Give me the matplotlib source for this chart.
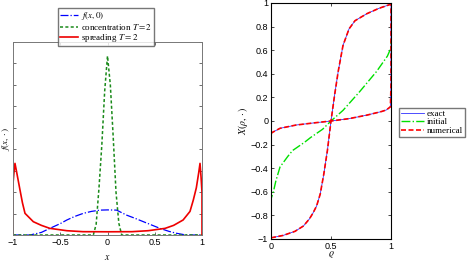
import numpy as np
import matplotlib
matplotlib.use('Agg')
import matplotlib.pyplot as plt

############################## Data ############################################
# left panel: densities f(x, .)
x_init = [-1, -0.82, -0.7, -0.61, -0.5, -0.43, -0.35, -0.256, -0.17, -0.08, 0,
          0.097, 0.2, 0.29, 0.38, 0.47, 0.555, 0.65, 0.73, 0.83, 1]
f_init = [0, 0, 0.12, 0.31, 0.53, 0.70, 0.86, 1.01, 1.10, 1.16, 1.17,
          1.16, 0.93, 0.78, 0.62, 0.46, 0.31, 0.17, 0.08, 0, 0]

x_conc = [-1, -0.15, -0.12, -0.09, -0.06, -0.03, 0, 0.03, 0.06, 0.09, 0.12,
          0.15, 1]
f_conc = [0, 0, 0.5, 2.2, 4.2, 6.7, 8.35, 7.0, 4.6, 2.0, 0.55, 0, 0]

x_spread = [-1, -1, -0.99, -0.979, -0.96, -0.926, -0.9, -0.873, -0.785, -0.7,
            -0.61, -0.43, -0.26, 0, 0.26, 0.43, 0.61, 0.7, 0.8, 0.873, 0.908,
            0.94, 0.965, 0.979, 0.99, 1, 1]
f_spread = [0, 2.4, 2.9, 3.34, 2.9, 2.1, 1.5, 1.01, 0.62, 0.45,
            0.31, 0.2, 0.155, 0.15, 0.155, 0.2, 0.31, 0.45, 0.70, 1.1, 1.63,
            2.2, 2.9, 3.34, 2.7, 2.0, 0]

# right panel: pseudo-inverse X(rho, .)
rho_spread = [0, 0.1, 0.2, 0.27, 0.32, 0.35, 0.38, 0.41, 0.44, 0.47, 0.5,
              0.53, 0.56, 0.6, 0.65, 0.7, 0.8, 0.9, 1]
X_spread = [-0.99, -0.97, -0.935, -0.89, -0.83, -0.78, -0.72, -0.62, -0.45,
            -0.25, 0, 0.22, 0.42, 0.64, 0.78, 0.85, 0.91, 0.955, 0.99]

rho_conc = [0, 0, 0.005, 0.075, 0.21, 0.35, 0.5, 0.65, 0.8, 0.92, 0.96,
            0.995, 1, 1]
X_conc = [-1, -0.12, -0.1, -0.062, -0.034, -0.017, 0, 0.02, 0.05, 0.08,
          0.093, 0.12, 0.3, 1]

rho_init = [0, 0, 0.02, 0.04, 0.075, 0.14, 0.18, 0.28, 0.33, 0.43, 0.5, 0.6,
            0.74, 0.88, 0.97, 1, 1]
X_init = [-0.7, -0.66, -0.6, -0.51, -0.39, -0.3, -0.25, -0.18, -0.14, -0.07,
          0, 0.09, 0.25, 0.42, 0.55, 0.62, 0.68]

############################## Style ###########################################
plt.rcParams['font.family'] = ['Liberation Sans', 'DejaVu Sans']
plt.rcParams['mathtext.fontset'] = 'stix'
plt.rcParams['font.size'] = 6.5

fig = plt.figure(figsize=(4.74, 2.62), dpi=100)
W, H = 474.0, 262.0

############################## Left panel ######################################
ax1 = fig.add_axes([13/W, 1 - 235/H, 189/W, 193/H])
l1, = ax1.plot(x_init, f_init, color='#0000ff', linestyle='-.', lw=0.9)
l2, = ax1.plot(x_conc, f_conc, color='#1a8a1a', linestyle=(0, (2, 1.5)), lw=1.1)
l3, = ax1.plot(x_spread, f_spread, color='#ee0000', lw=1.2)
ax1.set_xlim(-1, 1)
ax1.set_ylim(0, 9)
ax1.set_xticks([-1, -0.5, 0, 0.5, 1])
ax1.set_xticklabels(['\u22121', '\u22120.5', '0', '0.5', '1'])
ax1.set_yticks(np.arange(0, 10, 1))
ax1.set_yticklabels([])
ax1.tick_params(direction='in', top=True, right=True, length=2, width=0.5,
                pad=2, colors='#333333', labelcolor='black')
for s in ax1.spines.values():
    s.set_color('#777777')
    s.set_linewidth(0.7)
ax1.set_xlabel(r'$x$', fontsize=7)
ax1.xaxis.set_label_coords(0.5, -0.09)
ax1.set_ylabel(r'$f(x,\cdot)$', fontsize=6.6)
ax1.yaxis.set_label_coords(-0.003, 0.5)

fig.legend([l1, l2, l3],
           [r'$f(x,0)$', r'concentration $T=2$', r'spreading $T=2$'],
           loc='upper left', bbox_to_anchor=(58/W, 1 - 8/H),
           prop={'family': 'Liberation Serif', 'size': 6.5},
           frameon=True, fancybox=False, edgecolor='#555555',
           handlelength=2.0, handletextpad=0.3, labelspacing=0.0,
           borderpad=0.2, borderaxespad=0.0)

############################## Right panel #####################################
ax2 = fig.add_axes([271/W, 1 - 239/H, 120/W, 236/H])
e1, = ax2.plot(rho_spread, X_spread, color='#3030ff', lw=0.6)
ax2.plot(rho_conc, X_conc, color='#3030ff', lw=0.6)
g1, = ax2.plot(rho_init, X_init, color='#00e000', linestyle='-.', lw=1.0)
n1, = ax2.plot(rho_spread, X_spread, color='#ff0000', linestyle='--',
               dashes=(3, 1.5), lw=1.2)
ax2.plot(rho_conc, X_conc, color='#ff0000', linestyle='--', dashes=(3, 1.5),
         lw=1.2)
ax2.set_xlim(0, 1)
ax2.set_ylim(-1, 1)
ax2.set_xticks([0, 0.5, 1])
ax2.set_xticklabels(['0', '0.5', '1'])
ax2.set_yticks(np.round(np.arange(-1, 1.01, 0.2), 1))
ax2.set_yticklabels(['\u22121', '\u22120.8', '\u22120.6', '\u22120.4',
                     '\u22120.2', '0', '0.2', '0.4', '0.6', '0.8', '1'])
ax2.tick_params(direction='in', top=True, right=True, length=2, width=0.5,
                pad=2)
for s in ax2.spines.values():
    s.set_linewidth(0.8)
ax2.set_xlabel(r'$\varrho$', fontsize=7, labelpad=-1)
ax2.set_ylabel(r'$X(\rho,\cdot)$', fontsize=7, labelpad=0)

fig.legend([e1, g1, n1], ['exact', 'initial', 'numerical'],
           loc='upper left', bbox_to_anchor=(399/W, 1 - 108/H),
           prop={'family': 'Liberation Serif', 'size': 6.5},
           frameon=True, fancybox=False, edgecolor='#555555',
           handlelength=2.6, handletextpad=0.3, labelspacing=0.0,
           borderpad=0.2, borderaxespad=0.0)

plt.savefig('out.png', dpi=100)
